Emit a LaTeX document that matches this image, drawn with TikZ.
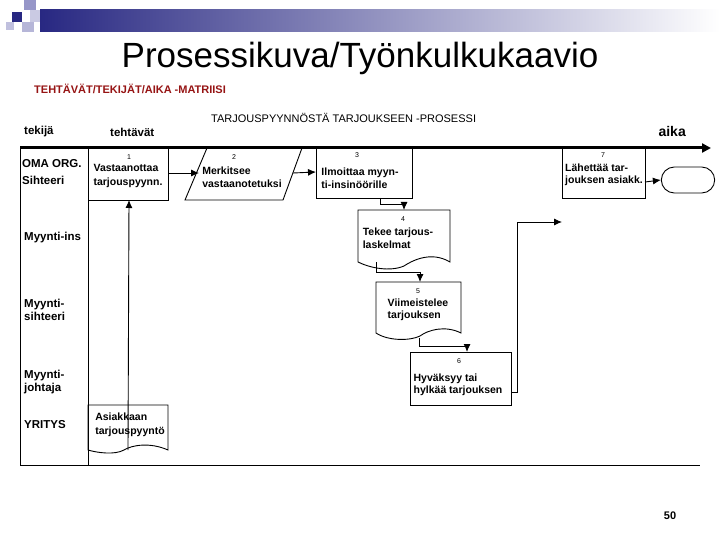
\documentclass[tikz,border=0pt]{standalone}
\usepackage{fontspec}
\setmainfont{Liberation Sans}
\usetikzlibrary{arrows.meta,shapes.misc}
\definecolor{deco}{RGB}{40,40,130}
\definecolor{decol}{RGB}{150,150,200}
\definecolor{red1}{RGB}{150,20,20}
\begin{document}
\begin{tikzpicture}[x=1pt,y=-1pt,
  txt/.style={font=\fontsize{10.5}{12.5}\selectfont\bfseries,align=left,inner sep=0pt},
  lab/.style={font=\fontsize{11.5}{13.5}\selectfont\bfseries,align=left,inner sep=0pt,anchor=west},
  num/.style={font=\fontsize{7}{8}\selectfont,inner sep=0pt},
  ln/.style={line width=0.9pt},
  arr/.style={ln,-{Latex[length=8pt,width=7pt]}}]
\useasboundingbox (0,0) rectangle (720,540);
% decoration
\shade[left color=deco,right color=white] (40,10) rectangle (720,32);
\fill[deco] (12,12) rectangle (22,22);
\fill[decol] (24,0) rectangle (36,10);
\fill[decol!70] (22,22) rectangle (34,32);
\fill[decol!50] (30,10) rectangle (40,22);
\fill[decol!60] (6,22) rectangle (14,30);
\node[font=\fontsize{35}{38}\selectfont] (title) at (360,58) {Prosessikuva/Työnkulkukaavio};
\node[font=\fontsize{11}{13}\selectfont\bfseries,text=red1,anchor=west,inner sep=0pt] (mat) at (34,89) {TEHTÄVÄT/TEKIJÄT/AIKA -MATRIISI};
\node[font=\fontsize{11}{13}\selectfont,anchor=west,inner sep=0pt] (proc) at (211,118) {TARJOUSPYYNNÖSTÄ TARJOUKSEEN -PROSESSI};
\node[lab] (tekija) at (24,132) {tekijä};
\node[lab] (teht) at (110,132) {tehtävät};
\node[font=\fontsize{14}{16}\selectfont\bfseries,anchor=east,inner sep=0pt] (aika) at (686,131) {aika};
% frame
\coordinate (fa) at (20,148); \coordinate (fb) at (711,148);
\draw[line width=3pt,-{Triangle[length=9pt,width=9pt]}] (fa) -- (fb);
\draw[ln] (20,148) -- (20,465) -- (700,465);
\draw[ln] (88,148) -- (88,465);
% roles
\node[lab] (r1) at (22,164) {OMA ORG.};
\node[lab] (r1b) at (22,180) {Sihteeri};
\node[lab] (r2) at (24,238) {Myynti-ins};
\node[lab] (r3) at (24,310) {Myynti-\\sihteeri};
\node[lab] (r4) at (24,382) {Myynti-\\johtaja};
\node[lab] (r5) at (24,425) {YRITYS};
% box 1
\draw[ln] (88,148) rectangle (168,200);
\node[num] at (129,157) {1};
\node[txt] (b1) at (128,176) {Vastaanottaa\\[2pt]tarjouspyynn.};
\coordinate (b1s) at (129,200);
% box 2 parallelogram
\draw[ln] (207,148) -- (302,148) -- (283,200) -- (185,200) -- cycle;
\node[num] at (234,157) {2};
\node[txt] (b2) at (242,177) {Merkitsee\\vastaanotetuksi};
\coordinate (b2w) at (199,173);
\coordinate (b2e) at (293,173);
% box 3
\draw[ln] (316,148) rectangle (412,198);
\node[num] at (357,155) {3};
\node[txt] (b3) at (360,178) {Ilmoittaa myyn-\\ti-insinöörille};
\coordinate (b3w) at (316,172);
% box 4 doc
\draw[ln] (358,210) -- (450,210) -- (450,262) .. controls (430,250) and (410,262) .. (404,266) .. controls (390,272) and (370,268) .. (358,262) -- cycle;
\node[num] at (403,219) {4};
\node[txt] (b4) at (398,238) {Tekee tarjous-\\laskelmat};
% box 5 doc
\draw[ln] (376,282) -- (461,282) -- (461,333) .. controls (445,325) and (428,330) .. (420,336) .. controls (410,341) and (388,341) .. (376,333) -- cycle;
\node[num] at (418,291) {5};
\node[txt] (b5) at (418,310) {Viimeistelee\\tarjouksen};
% box 6
\draw[ln] (410,352) rectangle (511,405);
\node[num] at (459,361) {6};
\node[txt] (b6) at (458,385) {Hyväksyy tai\\hylkää tarjouksen};
% box 7
\draw[ln] (562,148) rectangle (645,198);
\node[num] at (603,155) {7};
\node[txt] (b7) at (604,175) {Lähettää tar-\\jouksen asiakk.};
% terminator
\node[draw,ln,rounded rectangle,minimum width=60pt,minimum height=26pt] (term) at (688,180) {};
% YRITYS doc
\draw[ln] (88,405) -- (168,405) -- (168,450) .. controls (150,442) and (132,445) .. (124,450) .. controls (115,455) and (98,453) .. (88,450) -- cycle;
\node[txt] (by) at (130,425) {Asiakkaan\\[2pt]tarjouspyyntö};
% connectors
\coordinate (ys) at (128,450);
\draw[arr] (ys) -- (b1s);
\draw[arr] (168,173) -- (b2w);
\draw[arr] (293,173) -- (b3w);
\draw[arr] (380,198) -- (380,204) -- (404,204) -- (404,210);
\draw[arr] (376,262) -- (376,272) -- (420,272) -- (420,282);
\draw[arr] (419,338) -- (419,346) -- (467,346) -- (467,352);
\draw[arr] (511,392) -- (517,392) -- (517,222) -- (562,222);
\draw[arr] (645,182) -- (term.west);
\node[font=\fontsize{11}{13}\selectfont\bfseries,inner sep=0pt] (pg) at (670,516) {50};
\end{tikzpicture}
\end{document}
